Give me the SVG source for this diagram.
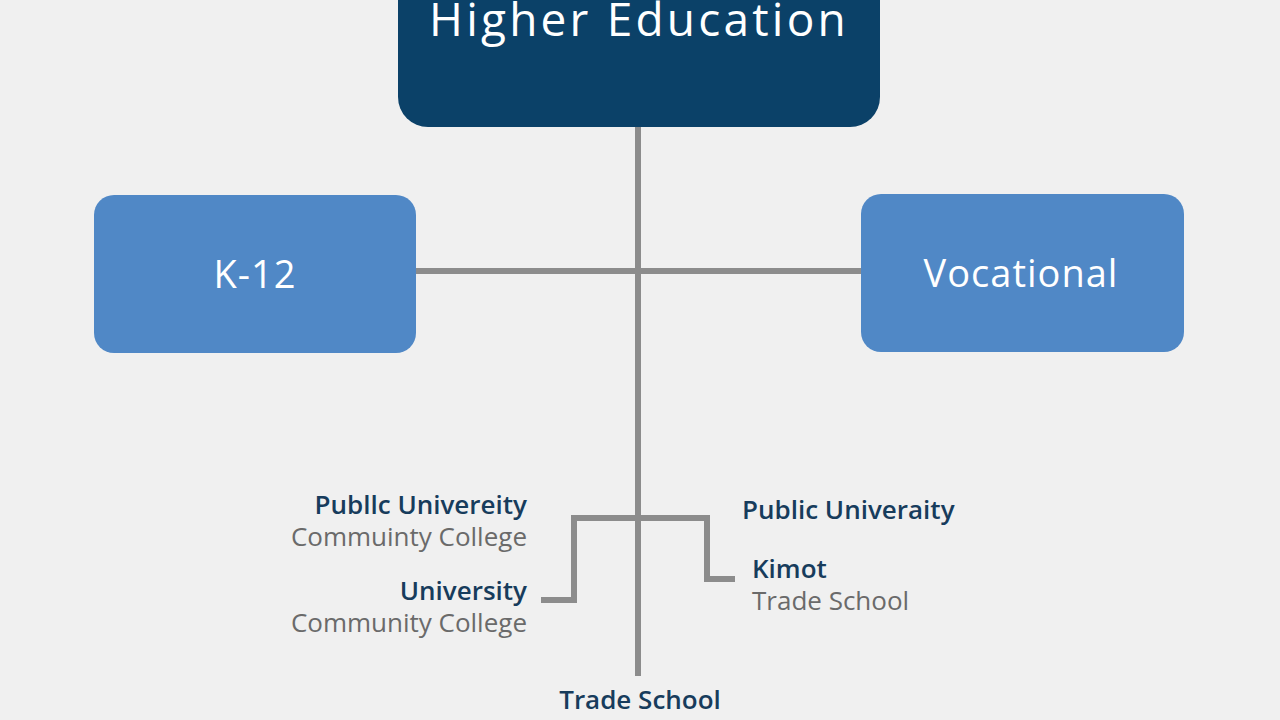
<svg xmlns="http://www.w3.org/2000/svg" width="1280" height="720" viewBox="0 0 1280 720">
<style>
.conn{stroke:#8c8c8c;stroke-width:6;fill:none}
.box-l{fill:#5088c6}
.wt{fill:#ffffff;font-family:"Open Sans","Liberation Sans",sans-serif;text-anchor:middle}
.dk{fill:#173c5c;font-family:"Open Sans","Liberation Sans",sans-serif;font-size:26px;font-weight:600}
.gr{fill:#6a6a6a;font-family:"Open Sans","Liberation Sans",sans-serif;font-size:26px}
</style>
<rect width="1280" height="720" fill="#f0f0f0"/>
<g id="connectors">
<line class="conn" x1="638" y1="125" x2="638" y2="676"/>
<line class="conn" x1="414" y1="271" x2="863" y2="271"/>
<polyline class="conn" points="638,518 574,518 574,600 541,600"/>
<polyline class="conn" points="638,518 707,518 707,579 735,579"/>
</g>
<g id="higher-education">
<rect x="398" y="-30" width="482" height="157" rx="30" fill="#0b4168"/>
<text class="wt" x="639" y="36" font-size="46" letter-spacing="3.2">Higher Education</text>
</g>
<g id="k12">
<rect class="box-l" x="94" y="195" width="322" height="158" rx="20"/>
<text class="wt" x="255" y="288" font-size="38" letter-spacing="1">K-12</text>
</g>
<g id="vocational">
<rect class="box-l" x="861" y="194" width="323" height="158" rx="20"/>
<text class="wt" x="1021" y="287" font-size="38" letter-spacing="1">Vocational</text>
</g>
<g id="left-group-1">
<text class="dk" x="527" y="514" text-anchor="end">Publlc Univereity</text>
<text class="gr" x="527" y="546" text-anchor="end">Commuinty College</text>
</g>
<g id="left-group-2">
<text class="dk" x="527" y="600" text-anchor="end">University</text>
<text class="gr" x="527" y="632" text-anchor="end">Community College</text>
</g>
<g id="right-group-1">
<text class="dk" x="742" y="519">Public Univeraity</text>
</g>
<g id="right-group-2">
<text class="dk" x="752" y="578" font-size="23">Kimot</text>
<text class="gr" x="752" y="610">Trade School</text>
</g>
<g id="trade-school">
<text class="dk" x="640" y="709" text-anchor="middle" font-size="28">Trade School</text>
</g>
</svg>
